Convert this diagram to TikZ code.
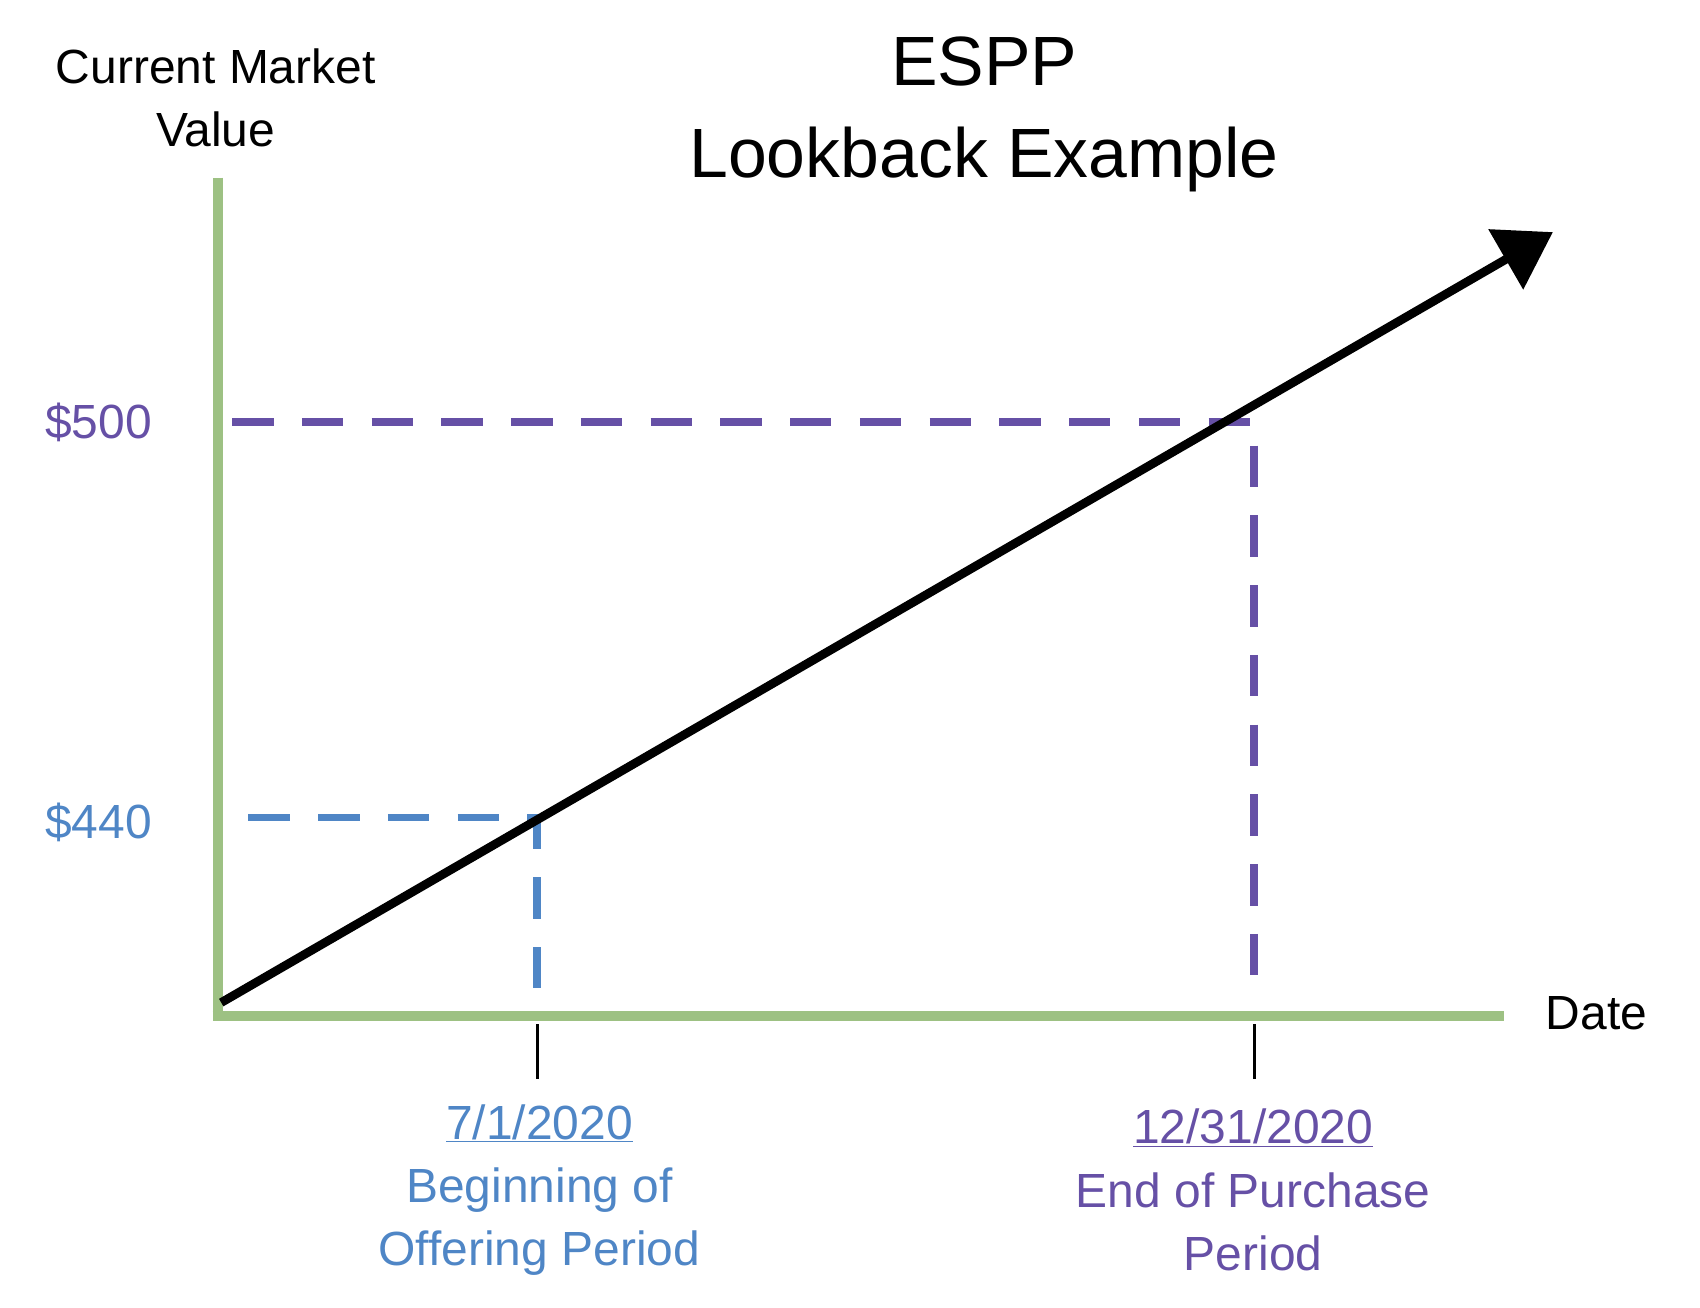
\documentclass[tikz,border=0pt]{standalone}
\usepackage{fontspec}
\setmainfont{Liberation Sans}
\usetikzlibrary{arrows.meta}
\definecolor{axg}{HTML}{9DC183}
\definecolor{bl}{HTML}{4F86C6}
\definecolor{pu}{HTML}{6650A6}
\tikzset{
 ax/.style={axg,line width=9pt},
 dsh/.style={line width=7pt,dash pattern=on 38pt off 26pt},
 tk/.style={line width=3pt},
 lbl/.style={font=\fontsize{44}{58}\selectfont,align=center},
}
\begin{document}
\begin{tikzpicture}[x=1pt,y=-1pt]
\useasboundingbox (0,0) rectangle (1560,1200);
\coordinate (o) at (200,932);
\coordinate (yt) at (200,163);
\coordinate (xe) at (1380,932);
\draw[ax] (yt) -- (200,937);
\draw[ax] (195,932) -- (xe);
% blue
\coordinate (b1) at (228,750);
\coordinate (b2) at (493,750);
\coordinate (b3) at (493,922);
\draw[bl,dsh] (b1) -- (b2) -- (b3);
% purple
\coordinate (p1) at (213,387);
\coordinate (p2) at (1151,387);
\coordinate (p3) at (1151,895);
\draw[pu,dsh] (p1) -- (p2) -- (p3);
% ticks
\draw[tk] (493,940) -- (493,990);
\draw[tk] (1151,940) -- (1151,990);
% main arrow
\coordinate (s) at (203,920);
\coordinate (e) at (1425,213);
\draw[line width=8pt,-{Triangle[length=50pt,width=62pt]}] (s) -- (e);
% labels
\node[lbl,pu,anchor=east] (v500) at (143,388) {\$500};
\node[lbl,bl,anchor=east] (v440) at (143,755) {\$440};
\node[lbl] (cmv) at (198,90) {Current Market\\Value};
\node[font=\fontsize{64}{84}\selectfont,align=center] (t) at (903,105) {ESPP\\Lookback Example};
\node[lbl,anchor=west] (d) at (1415,930) {Date};
\node[lbl,bl] (l1) at (495,1092) {\underline{7/1/2020}\\Beginning of\\Offering Period};
\node[lbl,pu] (l2) at (1150,1092) {\underline{12/31/2020}\\End of Purchase\\Period};
\end{tikzpicture}
\end{document}
